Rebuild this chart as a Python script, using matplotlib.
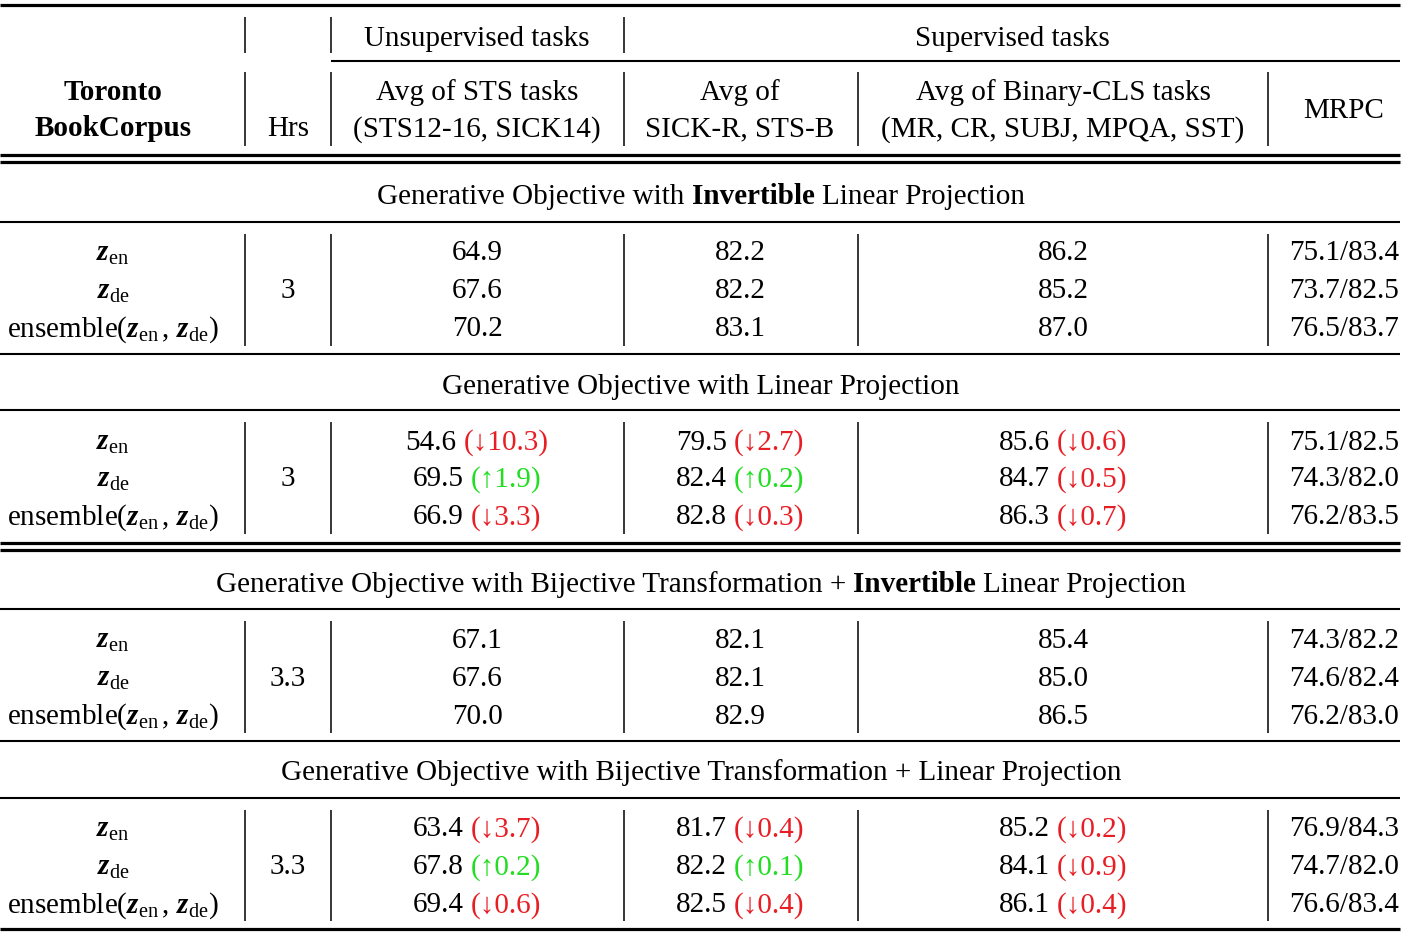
import matplotlib
matplotlib.use("Agg")
import matplotlib.pyplot as plt

plt.rcParams['font.family'] = ['Liberation Serif', 'DejaVu Serif']
plt.rcParams['mathtext.fontset'] = 'custom'
plt.rcParams['mathtext.rm'] = 'Liberation Serif'
plt.rcParams['mathtext.it'] = 'Liberation Serif:italic'
plt.rcParams['mathtext.bf'] = 'Liberation Serif:bold'
try:
    plt.rcParams['mathtext.bfit'] = 'Liberation Serif:italic:bold'
    ZC = r'\mathbfit{z}'
except KeyError:
    ZC = r'\boldsymbol{z}'

# ---------------- data ----------------
row_labels = [r'$' + ZC + r'_{\mathrm{en}}$',
              r'$' + ZC + r'_{\mathrm{de}}$',
              r'ensemble$(' + ZC + r'_{\mathrm{en}}\,,\, ' + ZC + r'_{\mathrm{de}})$']

section_titles = [
    [("Generative Objective with", "normal"), ("Invertible", "bold"), ("Linear Projection", "normal")],
    [("Generative Objective with Linear Projection", "normal")],
    [("Generative Objective with Bijective Transformation +", "normal"), ("Invertible", "bold"),
     ("Linear Projection", "normal")],
    [("Generative Objective with Bijective Transformation + Linear Projection", "normal")],
]
hrs = ["3", "3", "3.3", "3.3"]

sts = [[64.9, 67.6, 70.2], [54.6, 69.5, 66.9], [67.1, 67.6, 70.0], [63.4, 67.8, 69.4]]
sts_delta = [None, [-10.3, 1.9, -3.3], None, [-3.7, 0.2, -0.6]]
sick = [[82.2, 82.2, 83.1], [79.5, 82.4, 82.8], [82.1, 82.1, 82.9], [81.7, 82.2, 82.5]]
sick_delta = [None, [-2.7, 0.2, -0.3], None, [-0.4, 0.1, -0.4]]
binary = [[86.2, 85.2, 87.0], [85.6, 84.7, 86.3], [85.4, 85.0, 86.5], [85.2, 84.1, 86.1]]
binary_delta = [None, [-0.6, -0.5, -0.7], None, [-0.2, -0.9, -0.4]]
mrpc = [["75.1/83.4", "73.7/82.5", "76.5/83.7"],
        ["75.1/82.5", "74.3/82.0", "76.2/83.5"],
        ["74.3/82.2", "74.6/82.4", "76.2/83.0"],
        ["76.9/84.3", "74.7/82.0", "76.6/83.4"]]

header_top = ["Unsupervised tasks", "Supervised tasks"]
header_cols = [["Avg of STS tasks", "(STS12-16, SICK14)"],
               ["Avg of", "SICK-R, STS-B"],
               ["Avg of Binary-CLS tasks", "(MR, CR, SUBJ, MPQA, SST)"]]
col0_header = ["Toronto", "BookCorpus"]

RED = '#e81e25'
GREEN = '#22dd22'

# ---------------- layout ----------------
W, H = 1405, 936
FS = 21.0
DY = 1.5
fig = plt.figure(figsize=(W / 100, H / 100), dpi=100)
ax = fig.add_axes([0, 0, 1, 1])
ax.set_xlim(0, W)
ax.set_ylim(H, 0)
ax.axis('off')
R = fig.canvas.get_renderer()

XL, XR = 0, 1400
cx = [113, 288, 477, 740, 1063, 1344]
vx = [245, 331, 624, 858, 1268]

def tw(t):
    return t.get_window_extent(R).width

_tmp1 = ax.text(0, 0, "n n", fontsize=FS)
_tmp2 = ax.text(0, 0, "nn", fontsize=FS)
SPACE = tw(_tmp1) - tw(_tmp2)
_tmp1.remove(); _tmp2.remove()

def segs(x, y, parts, fs=FS):
    texts = []
    for s, c, w in parts:
        texts.append(ax.text(0, y + DY, s, color=c, fontweight=w, fontsize=fs,
                             ha='left', va='baseline'))
    widths = [tw(t) for t in texts]
    total = sum(widths) + SPACE * (len(texts) - 1)
    cur = x - total / 2
    for t, w in zip(texts, widths):
        t.set_x(cur)
        cur += w + SPACE

def ctext(x, y, s, **kw):
    ax.text(x, y + DY, s, fontsize=FS, ha='center', va='baseline', **kw)

HEAVY, MID, VL = 2.3, 1.5, 1.1

def hline(y, x0=XL, x1=XR, lw=MID):
    ax.plot([x0, x1], [y, y], color='black', lw=lw, solid_capstyle='butt')

def vline(x, y0, y1):
    ax.plot([x, x], [y0, y1], color='black', lw=VL, solid_capstyle='butt')

# header
hline(4.5, lw=HEAVY)
ctext(477, 44, header_top[0])
ctext(1012, 44, header_top[1])
for x in vx[:3]:
    vline(x, 17, 53)
hline(61, 331, XR)
for x in vx:
    vline(x, 72, 146)
ctext(cx[0], 98, col0_header[0], fontweight='bold')
ctext(cx[0], 135, col0_header[1], fontweight='bold')
ctext(cx[1], 135, "Hrs")
for i, lines in enumerate(header_cols):
    ctext(cx[2 + i], 98, lines[0])
    ctext(cx[2 + i], 135, lines[1])
ctext(cx[5], 116, "MRPC")
hline(155, lw=HEAVY)
hline(162, lw=HEAVY)

# blocks
block_title_y = [203, 392, 591, 779]
block_rule_top = [222, 410, 609, 798]
block_rule_bottom = [(354,), (543, 550), (741,), (929,)]
block_rows = [[259, 297, 335], [448, 485, 523], [646, 684, 722], [835, 873, 911]]
block_bars = [(234, 346), (422, 534), (621, 733), (810, 921)]

def value_cell(x, y, v, d):
    if d is None:
        ctext(x, y, f"{v:.1f}")
    else:
        arrow = '\u2193' if d < 0 else '\u2191'
        col = RED if d < 0 else GREEN
        segs(x, y, [(f"{v:.1f}", 'black', 'normal'),
                    (f"({arrow}{abs(d):.1f})", col, 'normal')])

for b in range(4):
    segs(701, block_title_y[b], [(s, 'black', w) for s, w in section_titles[b]])
    hline(block_rule_top[b])
    for x in vx:
        vline(x, *block_bars[b])
    rows = block_rows[b]
    for r in range(3):
        y = rows[r]
        ctext(cx[0], y, row_labels[r])
        value_cell(cx[2], y, sts[b][r], None if sts_delta[b] is None else sts_delta[b][r])
        value_cell(cx[3], y, sick[b][r], None if sick_delta[b] is None else sick_delta[b][r])
        value_cell(cx[4], y, binary[b][r], None if binary_delta[b] is None else binary_delta[b][r])
        ctext(cx[5], y, mrpc[b][r])
    ctext(cx[1], rows[1], hrs[b])
    for yb in block_rule_bottom[b]:
        hline(yb, lw=HEAVY if (len(block_rule_bottom[b]) > 1 or b == 3) else MID)

fig.savefig("out.png", dpi=100)
